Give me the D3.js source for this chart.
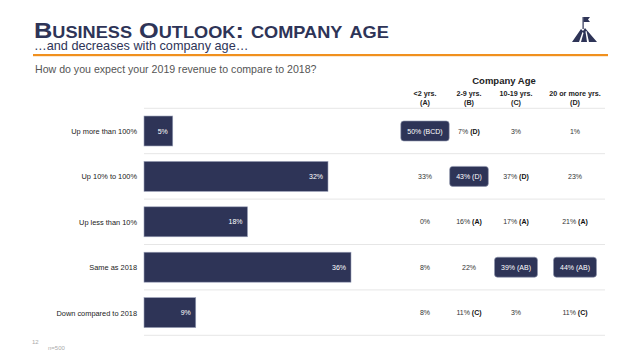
<!DOCTYPE html>
<html><head><meta charset="utf-8">
<script src="https://cdn.jsdelivr.net/npm/d3@7"></script>
<style>body{margin:0;background:#fff}svg{display:block}text{font-family:"Liberation Sans",Arial,sans-serif}</style>
</head><body>
<svg id="c" width="638" height="359"></svg>
<script>
const categories = ["Up more than 100%", "Up 10% to 100%", "Up less than 10%", "Same as 2018", "Down compared to 2018"];
const totals = [5, 32, 18, 36, 9];
const groupLabels = ["<2 yrs.", "2-9 yrs.", "10-19 yrs.", "20 or more yrs."];
const groupCodes = ["(A)", "(B)", "(C)", "(D)"];
const valuesA = [50, 33, 0, 8, 8];
const valuesB = [7, 43, 16, 22, 11];
const valuesC = [3, 37, 17, 39, 3];
const valuesD = [1, 23, 21, 44, 11];
const sigA = ["BCD", "", "", "", ""];
const sigB = ["D", "D", "A", "", "C"];
const sigC = ["", "D", "A", "AB", ""];
const sigD = ["", "", "A", "AB", "C"];
const highlightA = [true, false, false, false, false];
const highlightB = [false, true, false, false, false];
const highlightC = [false, false, false, true, false];
const highlightD = [false, false, false, true, false];

const NAVY = "#2e3457", ORANGE = "#f0901e";
const svg = d3.select("#c");

// Title (synthesized small caps)
const tg = svg.append("g");
const title = tg.append("text").attr("x", 0).attr("y", 0).attr("font-size", 22).attr("font-weight", "bold")
  .attr("fill", NAVY).style("font-variant", "small-caps").text("Business Outlook: company age");
const sx = 341 / title.node().getComputedTextLength();
tg.attr("transform", `translate(34,38) scale(${sx},1)`);

svg.append("text").attr("x", 34).attr("y", 50).attr("fill", NAVY).attr("font-size", 12.7).text("…and decreases with company age…");
svg.append("rect").attr("x", 33).attr("y", 54).attr("width", 575).attr("height", 2.2).attr("fill", ORANGE);
svg.append("text").attr("x", 35).attr("y", 73).attr("fill", "#555").attr("font-size", 10.6).text("How do you expect your 2019 revenue to compare to 2018?");

// Icon
const ic = svg.append("g").attr("fill", NAVY);
ic.append("path").attr("d", "M572,42 L581,29 L583,31 L585,28 L597,42 Z");
ic.append("rect").attr("x", 582.5).attr("y", 17).attr("width", 1.2).attr("height", 12);
ic.append("path").attr("d", "M583.5,17 L590,17 L588,19.5 L590,22 L583.5,22 Z");
ic.append("path").attr("d", "M579,42 L582.5,32 L583.5,33 L581,42 Z").attr("fill", "#fff");
ic.append("path").attr("d", "M587,42 L585.5,31.5 L586.5,31 L589,42 Z").attr("fill", "#fff");

// Scales
const y = d3.scaleBand().domain(categories).range([108.3, 335.3]).paddingInner(0.34).paddingOuter(0.17);
const x = d3.scaleLinear().domain([0, 36]).range([144, 351]);
const colX = d3.scaleOrdinal().domain(groupCodes).range([425, 469, 516, 575]);

// Separator lines
const lines = [108.3].concat(categories.map(c => y(c) + y.bandwidth() + y.step() * y.paddingInner() / 2));
svg.append("g").selectAll("line").data(lines).join("line")
  .attr("x1", 144).attr("x2", 605).attr("y1", d => d).attr("y2", d => d)
  .attr("stroke", "#e6e6e6").attr("stroke-width", 1);

// Bars
const rows = categories.map((c, i) => ({c, v: totals[i]}));
svg.append("g").selectAll("rect").data(rows).join("rect")
  .attr("x", x(0)).attr("y", d => y(d.c)).attr("width", d => x(d.v) - x(0)).attr("height", y.bandwidth())
  .attr("fill", NAVY).attr("stroke", "#9aa0b8").attr("stroke-width", 0.6);
svg.append("g").selectAll("text").data(rows).join("text")
  .attr("x", d => x(d.v) - 5).attr("y", d => y(d.c) + y.bandwidth() / 2 + 2.5)
  .attr("text-anchor", "end").attr("fill", "#fff").attr("font-size", 7).text(d => d.v + "%");

// Category labels
svg.append("g").selectAll("text").data(categories).join("text")
  .attr("x", 137).attr("y", d => y(d) + y.bandwidth() / 2 + 3)
  .attr("text-anchor", "end").attr("fill", "#222").attr("font-size", 7.4).text(d => d);

// Table header
svg.append("text").attr("x", 504).attr("y", 84).attr("text-anchor", "middle").attr("font-weight", "bold")
  .attr("font-size", 9.5).attr("fill", "#222").text("Company Age");
groupCodes.forEach((g, i) => {
  svg.append("text").attr("x", colX(g)).attr("y", 96).attr("text-anchor", "middle").attr("font-weight", "bold")
    .attr("font-size", 7.2).attr("fill", "#222").text(groupLabels[i]);
  svg.append("text").attr("x", colX(g)).attr("y", 105).attr("text-anchor", "middle").attr("font-weight", "bold")
    .attr("font-size", 7.2).attr("fill", "#222").text(g);
});

// Table cells
const series = [[valuesA, sigA, highlightA], [valuesB, sigB, highlightB], [valuesC, sigC, highlightC], [valuesD, sigD, highlightD]];
series.forEach(([vals, sig, hl], gi) => {
  const cx = colX(groupCodes[gi]);
  vals.forEach((v, ri) => {
    const cy = y(categories[ri]) + y.bandwidth() / 2;
    const g = svg.append("g");
    const box = hl[ri] ? g.append("rect") : null;
    const tx = g.append("text").attr("x", cx).attr("y", cy + 2.5).attr("text-anchor", "middle")
      .attr("font-size", 7).attr("fill", hl[ri] ? "#fff" : "#333");
    tx.append("tspan").text(v + "%");
    if (sig[ri]) tx.append("tspan").attr("font-weight", hl[ri] ? "normal" : "bold").attr("fill", hl[ri] ? "#fff" : "#111").text(" (" + sig[ri] + ")");
    if (box) {
      const w = tx.node().getComputedTextLength() + 13;
      box.attr("x", cx - w / 2).attr("y", cy - 10).attr("width", w).attr("height", 20).attr("rx", 3)
        .attr("fill", NAVY).attr("stroke", "#8f95ad").attr("stroke-width", 0.6);
    }
  });
});

// Footer
svg.append("text").attr("x", 32).attr("y", 344).attr("font-size", 6).attr("fill", "#aaa").text("12");
svg.append("text").attr("x", 48).attr("y", 349.5).attr("font-size", 6).attr("fill", "#aaa").text("n=500");
</script>
</body></html>
